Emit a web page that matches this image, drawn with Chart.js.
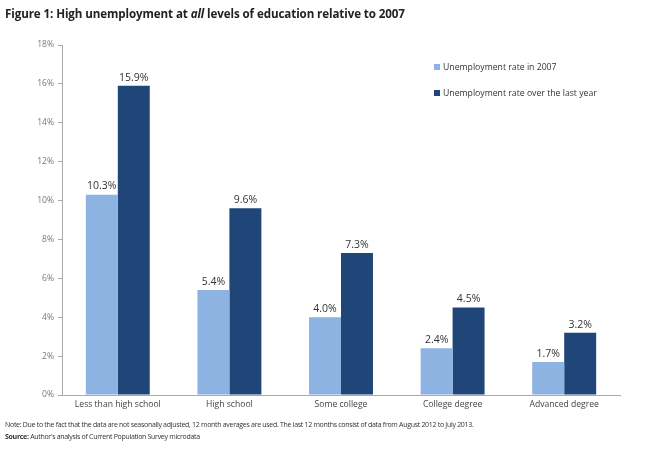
<!DOCTYPE html>
<html>
<head>
<meta charset="utf-8">
<script src="https://cdn.jsdelivr.net/npm/chart.js@4"></script>
<style>
    body { margin: 0; background: #fff; font-family: "Open Sans", sans-serif; }
    #wrap { position: relative; width: 650px; height: 472px; }
    #chart { position: absolute; left: 0; top: 0; }
    .title { position: absolute; left: 5px; top: 6px; font-size: 11.6px; font-weight: bold; color: #222; letter-spacing: -0.1px; }
    .legend { position: absolute; left: 434px; font-size: 8.7px; color: #333; }
    .legend span { display: inline-block; width: 6px; height: 6px; margin-right: 3px; }
    .note { position: absolute; left: 5px; font-size: 7px; color: #333; letter-spacing: -0.3px; }
</style>
</head>
<body>
<div id="wrap">
    <canvas id="chart" width="650" height="472"></canvas>
    <div class="title">Figure 1: High unemployment at <i>all</i> levels of education relative to 2007</div>
    <div class="legend" style="top:61px"><span style="background:#8db3e2"></span>Unemployment rate in 2007</div>
    <div class="legend" style="top:87px"><span style="background:#1f4579"></span>Unemployment rate over the last year</div>
    <div class="note" style="top:420px">Note: Due to the fact that the data are not seasonally adjusted, 12 month averages are used. The last 12 months consist of data from August 2012 to July 2013.</div>
    <div class="note" style="top:432px"><b>Source:</b> Author's analysis of Current Population Survey microdata</div>
</div>
<script>
document.addEventListener('DOMContentLoaded', () => {
    // 데이터
    const categories = ['Less than high school', 'High school', 'Some college', 'College degree', 'Advanced degree'];
    const rate2007 = [10.3, 5.4, 4.0, 2.4, 1.7];
    const rateLastYear = [15.9, 9.6, 7.3, 4.5, 3.2];
    const yTicks = [0, 2, 4, 6, 8, 10, 12, 14, 16, 18];

    // 막대 위 값 표시
    const valueLabels = {
        id: 'valueLabels',
        afterDatasetsDraw(chart) {
            const ctx = chart.ctx;
            ctx.save();
            ctx.font = '10.5px "Open Sans", sans-serif';
            ctx.fillStyle = '#333';
            ctx.textAlign = 'center';
            ctx.textBaseline = 'bottom';
            chart.data.datasets.forEach((ds, i) => {
                chart.getDatasetMeta(i).data.forEach((bar, j) => {
                    ctx.fillText(ds.data[j].toFixed(1) + '%', bar.x, bar.y - 3);
                });
            });
            ctx.restore();
        }
    };

    new Chart(document.getElementById('chart').getContext('2d'), {
        type: 'bar',
        data: {
            labels: categories,
            datasets: [
                { label: 'Unemployment rate in 2007', data: rate2007, backgroundColor: '#8db3e2', barPercentage: 1, categoryPercentage: 0.573 },
                { label: 'Unemployment rate over the last year', data: rateLastYear, backgroundColor: '#1f4579', barPercentage: 1, categoryPercentage: 0.573 }
            ]
        },
        plugins: [valueLabels],
        options: {
            responsive: false,
            animation: false,
            layout: { padding: { top: 45, right: 30, bottom: 52, left: 0 } },
            plugins: { legend: { display: false }, tooltip: { enabled: false } },
            scales: {
                x: {
                    grid: { display: false, drawTicks: false },
                    border: { display: true, color: '#aaa' },
                    ticks: { color: '#444', font: { size: 8.6, family: '"Open Sans", sans-serif' }, padding: 4, maxRotation: 0 },
                    afterFit: s => { s.height = 25; }
                },
                y: {
                    min: 0, max: 18,
                    afterBuildTicks: s => { s.ticks = yTicks.map(v => ({ value: v })); },
                    grid: { drawOnChartArea: false, drawTicks: true, tickLength: 4, color: '#aaa' },
                    border: { display: true, color: '#aaa' },
                    ticks: { color: '#777', font: { size: 8.5, family: '"Open Sans", sans-serif' }, padding: 4, callback: v => v + '%' },
                    afterFit: s => { s.width = 62; }
                }
            }
        }
    });
});
</script>
</body>
</html>
